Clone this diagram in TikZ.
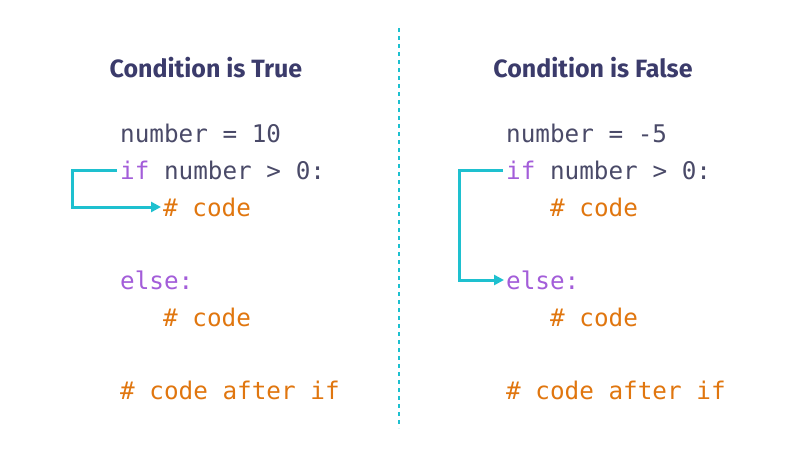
\documentclass[tikz,border=0pt]{standalone}
\usepackage{fontspec}
\setmainfont{Fira Sans}
\setmonofont{DejaVu Sans Mono}
\usetikzlibrary{arrows.meta}
\definecolor{navy}{HTML}{3B3B6B}
\definecolor{codegray}{HTML}{4A4A68}
\definecolor{kw}{HTML}{A35DD9}
\definecolor{cm}{HTML}{E0760F}
\definecolor{cy}{HTML}{1EC0CF}
\tikzset{
 title/.style={font=\fontsize{25}{28}\selectfont\bfseries, text=navy},
 code/.style={anchor=west, inner sep=0pt, font=\fontsize{24.3}{26}\selectfont\ttfamily},
 flow/.style={cy, line width=3pt, -{Triangle[length=10pt,width=10pt]}},
}
\begin{document}
\begin{tikzpicture}[x=1pt,y=-1pt]
\useasboundingbox (0,0) rectangle (799,455);
\node[title] (t1) at (206,68) {Condition is True};
\node[title] (t2) at (593,68) {Condition is False};
\draw[cy, line width=1.5pt, dash pattern=on 4pt off 4pt] (399,28) coordinate (d1) -- (399,428) coordinate (d2);
% left
\node[code, text=codegray] (l1) at (120,133) {number = 10};
\node[code] (l2) at (120,170) {\textcolor{kw}{if}\textcolor{codegray}{\ number > 0:}};
\node[code, text=cm] (l3) at (163,207) {\# code};
\node[code, text=kw] (l4) at (120,280) {else:};
\node[code, text=cm] (l5) at (163,317) {\# code};
\node[code, text=cm] (l6) at (120,390) {\# code after if};
\draw[flow] ([xshift=-3pt]l2.west) -| (72,207) -- ([xshift=-2pt]l3.west);
% right
\node[code, text=codegray] (r1) at (506,133) {number = -5};
\node[code] (r2) at (506,170) {\textcolor{kw}{if}\textcolor{codegray}{\ number > 0:}};
\node[code, text=cm] (r3) at (550,207) {\# code};
\node[code, text=kw] (r4) at (506,280) {else:};
\node[code, text=cm] (r5) at (550,317) {\# code};
\node[code, text=cm] (r6) at (506,390) {\# code after if};
\draw[flow] ([xshift=-3pt]r2.west) -| (459,280) -- ([xshift=-2pt]r4.west);
\end{tikzpicture}
\end{document}
